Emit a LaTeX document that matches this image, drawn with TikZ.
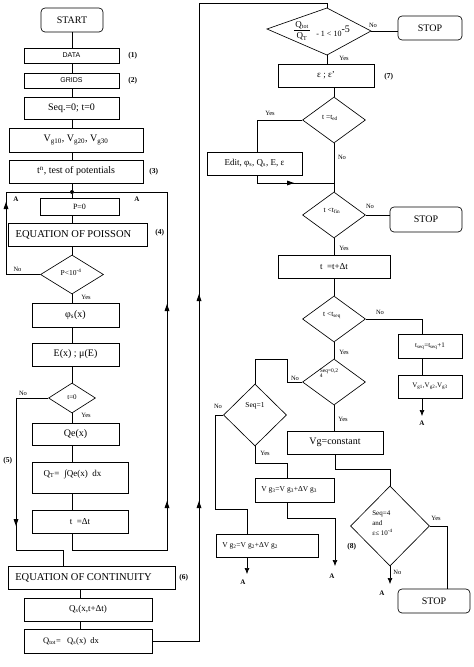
\documentclass[tikz,border=0pt]{standalone}
\usepackage{fontspec}
\usepackage{amsmath}
\setmainfont{Liberation Serif}
\newfontfamily\sansf{Liberation Sans}
\usetikzlibrary{shapes.geometric,arrows.meta}
\newcommand\uptri[2]{\fill[shift={(#1,#2)}] (-2.5,3) -- (2.5,3) -- (0,-4) -- cycle;}
\newcommand\dntri[2]{\fill[shift={(#1,#2)}] (-2.5,-3) -- (2.5,-3) -- (0,4) -- cycle;}
\newcommand\rttri[2]{\fill[shift={(#1,#2)}] (-3,-2.5) -- (-3,2.5) -- (4,0) -- cycle;}
\newcommand\fs[1]{\fontsize{#1}{#1}\selectfont}
\begin{document}
\begin{tikzpicture}[x=1pt,y=-1pt,line width=0.65pt,
 box/.style={draw, rectangle, inner sep=1pt, align=center, font=\fs{10}},
 rbox/.style={box, rounded corners=4pt},
 dia/.style={draw, diamond, inner sep=0pt},
 txt/.style={inner sep=0pt, font=\fs{10}},
 small/.style={inner sep=0pt, font=\fs{7.5}},
 yn/.style={inner sep=0pt, font=\fs{6.5}},
 lab/.style={inner sep=0pt, anchor=west, font=\bfseries\fs{7.5}},
 aa/.style={inner sep=0pt, font=\bfseries\fs{7}},
 arr/.style={-{Latex[length=6pt,width=5pt]}}]
\useasboundingbox (0,0) rectangle (474,667);

% ---------------- left column ----------------
\node[rbox, minimum width=62pt, minimum height=24pt] (start) at (72,20) {START};
\node[box, font=\sansf\fs{7}, minimum width=95pt, minimum height=15pt] (data) at (71.5,55.5) {DATA};
\node[lab] (l1) at (128,55.5) {(1)};
\node[box, font=\sansf\fs{7}, minimum width=95pt, minimum height=15pt] (grids) at (71.5,80.5) {GRIDS};
\node[lab] (l2) at (128,80.5) {(2)};
\node[box, minimum width=95pt, minimum height=22pt] (seq) at (71.5,108) {Seq.=0; t=0};
\node[box, minimum width=134pt, minimum height=24pt] (vg0) at (76,140) {V\textsubscript{g10}, V\textsubscript{g20}, V\textsubscript{g30}};
\node[box, minimum width=134pt, minimum height=23pt] (tn) at (76,171.5) {t\textsuperscript{n}, test of potentials};
\node[lab] (l3) at (149,171.5) {(3)};
\node[circle, fill, inner sep=0pt, minimum size=4pt] (dot) at (72,192) {};
\coordinate (lt) at (6,192);
\coordinate (rt) at (167,192);
\node[aa] (a1) at (16,199) {A};
\node[aa] (a2) at (137,199) {A};
\node[box, font=\fs{8}, minimum width=79pt, minimum height=17pt] (p0) at (79.5,206.5) {P=0};
\node[box, minimum width=139pt, minimum height=23pt] (pois) at (77.5,234.5) {};
\node[txt, font=\fs{10.5}] (poist) at (73.5,234.5) {EQUATION OF POISSON};
\node[lab] (l4) at (155,233) {(4)};
\node[dia, minimum width=63pt, minimum height=39pt] (dp) at (72,274.5) {};
\node[small] (dpt) at (71,272) {P<10\textsuperscript{-4}};
\node[yn] (np) at (17.5,269) {No};
\node[yn] (yp) at (86,297) {Yes};
\node[box, minimum width=87pt, minimum height=24pt] (phi) at (75.5,315) {φ\textsubscript{s}(x)};
\node[box, minimum width=87pt, minimum height=23pt] (ex) at (75.5,354.5) {E(x) ; μ(E)};
\node[dia, minimum width=47pt, minimum height=30pt] (dt) at (72,398) {};
\node[small, font=\fs{7}] (dtt) at (72,397) {t=0};
\node[yn] (nt) at (23,393) {No};
\node[yn] (yt) at (86,415) {Yes};
\node[lab] (l5) at (3,461) {(5)};
\node[box, minimum width=87pt, minimum height=22pt] (qe) at (75.5,434) {Qe(x)};
\node[box, minimum width=96pt, minimum height=31pt] (qt) at (80,477.5) {};
\node[txt, font=\fs{9}] (qtt) at (72.5,474) {Q\textsubscript{T}=\hspace{5pt}∫Qe(x)\ \ dx};
\node[box, font=\fs{9}, minimum width=96pt, minimum height=23pt] (tdt) at (80,521.5) {t\ \ =Δt};
\node[box, minimum width=167pt, minimum height=23pt] (eqc) at (91.5,577.5) {};
\node[txt, font=\fs{10.5}] (eqct) at (83.5,577.5) {EQUATION OF CONTINUITY};
\node[lab] (l6) at (179,577.5) {(6)};
\node[box, font=\fs{9}, minimum width=128pt, minimum height=23pt] (qs) at (88,609.5) {Q\textsubscript{s}(x,t+Δt)};
\node[box, minimum width=128pt, minimum height=24pt] (qtot) at (88,641) {};
\node[txt, font=\fs{8.5}] (qtott) at (71,641) {Q\textsubscript{tot}=\ \ \ Q\textsubscript{s}(x)\ \ dx};

\coordinate (jr) at (72,550);
\coordinate (br) at (167,550);
\coordinate (nl1) at (16,398);
\coordinate (nl2) at (16,550);
\coordinate (nl3) at (63,550);
\coordinate (cq) at (80,0);
\coordinate (qr) at (199,641);
\coordinate (qtop) at (199,3);
\coordinate (d1top) at (327,3);

\draw (start) -- (start |- data.north);
\draw (data.south -| start) -- (grids.north -| start);
\draw (grids.south -| start) -- (seq.north -| start);
\draw (seq.south -| start) -- (vg0.north -| start);
\draw (vg0.south -| start) -- (tn.north -| start);
\draw (tn.south -| start) -- (dot) -- (p0.north -| start);
\draw (p0.south -| start) -- (pois.north -| start);
\draw (pois.south -| start) -- (dp.north);
\draw (dp.west) -- (dp.west -| lt) -- (lt) -- (dot);
\draw (dot) -- (rt) -- (br) -- (jr) -- (tdt.south -| start);
\draw (dp.south) -- (phi.north -| start);
\draw (phi.south -| start) -- (ex.north -| start);
\draw (ex.south -| start) -- (dt.north);
\draw (dt.south) -- (qe.north -| start);
\draw (qe.south -| start) -- (qt.north -| start);
\draw (qt.south -| start) -- (tdt.north -| start);
\draw (dt.west) -- (nl1) -- (nl2) -- (nl3) -- (eqc.north -| nl3);
\draw (eqc.south -| cq) -- (qs.north -| cq);
\draw (qs.south -| cq) -- (qtot.north -| cq);
\draw (qtot.east) -- (qr) -- (qtop) -- (d1top);
\uptri{6}{206}
\dntri{16}{522}
\uptri{167}{308}
\uptri{167}{505}
\uptri{199}{298}
\uptri{199}{505}

% ---------------- right column ----------------
\coordinate (d1t) at (327,8);
\coordinate (d1r) at (371,31);
\coordinate (d1b) at (327,55);
\coordinate (d1l) at (267,29);
\draw (d1top) -- (d1t);
\draw (d1t) -- (d1r) -- (d1b) -- (d1l) -- cycle;
\node[inner sep=0pt, font=\fs{9}] (frac) at (302,31) {$\dfrac{\,\text{Q}_{\text{tot}}\,}{\text{Q}_{\text{T}}}$};
\node[inner sep=0pt, anchor=west, font=\fs{8}] (cond) at (316,31) {- 1 < 10\raisebox{4pt}{\fs{10}-5}};
\node[yn] (n1) at (373,25) {No};
\node[rbox, minimum width=64pt, minimum height=24pt] (stop1) at (430,28) {STOP};
\draw (d1r) -- (d1r -| stop1.west);
\node[yn] (y1) at (344,58.5) {Yes};
\node[box, font=\fs{9}, minimum width=96pt, minimum height=23pt] (eps) at (326,75.5) {ε ; ε'};
\node[lab] (l7) at (384,77) {(7)};
\draw (d1b) -- (d1b |- eps.north);
\node[dia, minimum width=63pt, minimum height=46pt] (d2) at (334,120) {};
\node[small] (d2t) at (330,118) {t =t\textsubscript{ed}};
\draw (eps.south -| d2) -- (d2.north);
\node[yn] (y2) at (270,113) {Yes};
\coordinate (ey) at (257,120);
\coordinate (eb) at (257,183);
\coordinate (ej) at (334,183);
\node[box, font=\fs{9}, minimum width=95pt, minimum height=23pt] (edit) at (254.5,163.5) {Edit, φ\textsubscript{s}, Q\textsubscript{s}, E, ε};
\draw (d2.west) -- (ey) -- (edit.north -| ey);
\draw (edit.south -| ey) -- (eb) -- (ej);
\rttri{290}{183}
\node[yn] (n2) at (342,157) {No};
\node[dia, minimum width=63pt, minimum height=46pt] (d3) at (334,215) {};
\node[small] (d3t) at (332,211) {t <t\textsubscript{fin}};
\draw (d2.south) -- (d3.north);
\node[yn] (n3) at (370,206) {No};
\node[rbox, minimum width=72pt, minimum height=25pt] (stop2) at (426,219.5) {STOP};
\draw (d3.east) -- (d3.east -| stop2.west);
\node[yn] (y3) at (344,248) {Yes};
\node[box, font=\fs{9}, minimum width=112pt, minimum height=23pt] (tt) at (334,266.5) {t\ \ =t+Δt};
\draw (d3.south) -- (tt.north);
\node[dia, minimum width=63pt, minimum height=46pt] (d4) at (334,319) {};
\node[small] (d4t) at (332,315) {t <t\textsubscript{seq}};
\draw (tt.south) -- (d4.north);
\node[yn] (n4) at (380,312) {No};
\coordinate (vx) at (422,0);
\node[box, font=\fs{7}, minimum width=64pt, minimum height=24pt] (tseq) at (430,346) {t\textsubscript{seq}=t\textsubscript{seq}+1};
\node[box, font=\fs{7}, minimum width=64pt, minimum height=23pt] (vgs) at (430,386.5) {V\textsubscript{g1},V\textsubscript{g2},V\textsubscript{g3}};
\coordinate (ar1) at (422,416);
\node[aa] (a3) at (422,423) {A};
\draw (d4.east) -- (d4.east -| vx) -- (tseq.north -| vx);
\draw (tseq.south -| vx) -- (vgs.north -| vx);
\draw[arr] (vgs.south -| vx) -- (ar1);
\node[yn] (y4) at (344,352) {Yes};
\node[dia, minimum width=63pt, minimum height=46pt] (d5) at (334,382) {};
\node[inner sep=0pt, align=left, font=\fs{5.5}] (d5t) at (329,373) {Seq=0,2\\4};
\draw (d4.south) -- (d5.north);
\node[yn] (n5) at (295,378) {No};
\coordinate (c5a) at (287,382);
\coordinate (c5b) at (287,359);
\coordinate (c5c) at (255,359);
\node[dia, minimum width=63pt, minimum height=62pt] (d6) at (255,415) {};
\node[small] (d6t) at (255,406) {Seq=1};
\draw (d5.west) -- (c5a) -- (c5b) -- (c5c) -- (d6.north);
\node[yn] (n6) at (218,406) {No};
\coordinate (c6a) at (215,415);
\coordinate (c6b) at (215,509);
\coordinate (c6c) at (247,509);
\node[box, minimum width=102pt, minimum height=23pt] (vg2) at (267,545.5) {};
\node[inner sep=0pt, anchor=west, font=\fs{7.5}] (vg2t) at (222,545.5) {V g\textsubscript{2}=V g\textsubscript{2}+ΔV g\textsubscript{2}};
\draw (d6.west) -- (c6a) -- (c6b) -- (c6c) -- (vg2.north -| c6c);
\coordinate (ar2) at (247,574);
\node[aa] (a4) at (243,582) {A};
\draw[arr] (vg2.south -| c6c) -- (ar2);
\node[yn] (y6) at (265,453) {Yes};
\coordinate (c6d) at (255,463);
\coordinate (c6e) at (287,463);
\node[box, minimum width=79pt, minimum height=24pt] (vg3) at (294.5,490) {};
\node[inner sep=0pt, anchor=west, font=\fs{7.5}] (vg3t) at (261,490) {V g\textsubscript{3}=V g\textsubscript{3}+ΔV g\textsubscript{3}};
\draw (d6.south) -- (c6d) -- (c6e) -- (vg3.north -| c6e);
\coordinate (c3a) at (287,518);
\coordinate (c3b) at (335,518);
\coordinate (ar3) at (335,566);
\node[aa] (a5) at (332,576) {A};
\draw[arr] (vg3.south -| c6e) -- (c3a) -- (c3b) -- (ar3);
\node[yn] (y5) at (343,419) {Yes};
\node[box, minimum width=96pt, minimum height=23pt] (vgc) at (335,442.5) {Vg=constant};
\draw (d5.south) -- (d5.south |- vgc.north);
\coordinate (c7a) at (335,469);
\coordinate (c7b) at (390,469);
\node[dia, minimum width=79pt, minimum height=80pt] (d7) at (390,526) {};
\node[inner sep=0pt, anchor=west, align=left, font=\fontsize{7}{10}\selectfont] (d7t) at (372,523) {Seq=4\\and\\ε≤ 10\textsuperscript{-4}};
\draw (vgc.south) -- (c7a) -- (c7b) -- (d7.north);
\node[yn] (y7) at (436,518) {Yes};
\coordinate (c7c) at (447,526);
\node[rbox, minimum width=72pt, minimum height=24pt] (stop3) at (434,601) {STOP};
\draw (d7.east) -- (c7c) -- (stop3.north -| c7c);
\coordinate (ar4) at (390,584);
\node[yn, anchor=west] (n7) at (393,572) {No};
\node[aa] (a6) at (382,593) {A};
\draw[arr] (d7.south) -- (ar4);
\node[lab] (l8) at (347,547) {(8)};
\end{tikzpicture}
\end{document}
